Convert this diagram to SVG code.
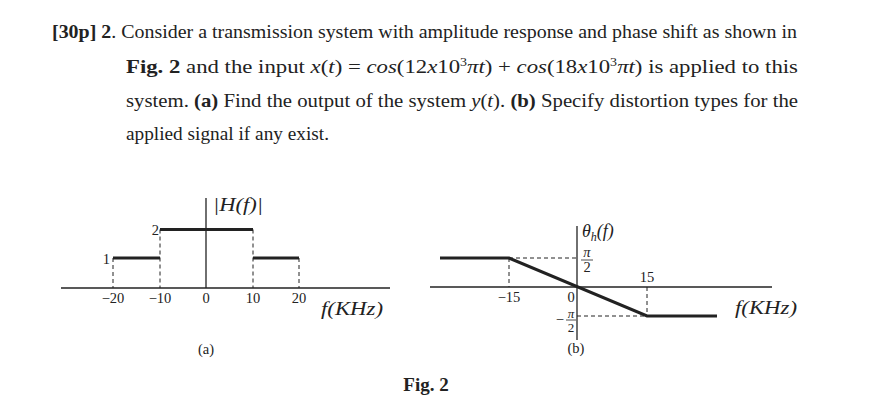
<svg xmlns="http://www.w3.org/2000/svg" width="884" height="408" viewBox="0 0 884 408">
<style>
text{font-family:"Liberation Serif",serif;fill:#222}
.p{font-size:19.5px}
.s{font-size:14.5px}
.i{font-style:italic}
.ax{stroke:#222;stroke-width:1.3;fill:none}
.th{stroke:#222;stroke-width:3.2;fill:none}
.d{stroke:#222;stroke-width:1;stroke-dasharray:4,3;fill:none}
</style>
<rect width="884" height="408" fill="#fff"/>
<g id="question">
<text class="p" x="52" y="38" textLength="745" lengthAdjust="spacingAndGlyphs"><tspan font-weight="bold">[30p] 2</tspan>. Consider a transmission system with amplitude response and phase shift as shown in</text>
<text class="p" x="126" y="73" textLength="672" lengthAdjust="spacingAndGlyphs"><tspan font-weight="bold">Fig. 2</tspan> and the input <tspan class="i">x</tspan>(<tspan class="i">t</tspan>) = <tspan class="i">cos</tspan>(12<tspan class="i">x</tspan>10<tspan font-size="12" dy="-7">3</tspan><tspan dy="7" class="i">πt</tspan>) + <tspan class="i">cos</tspan>(18<tspan class="i">x</tspan>10<tspan font-size="12" dy="-7">3</tspan><tspan dy="7" class="i">πt</tspan>) is applied to this</text>
<text class="p" x="126" y="107" textLength="672" lengthAdjust="spacingAndGlyphs">system. <tspan font-weight="bold">(a)</tspan> Find the output of the system  <tspan class="i">y</tspan>(<tspan class="i">t</tspan>). <tspan font-weight="bold">(b)</tspan> Specify distortion types for the</text>
<text class="p" x="126" y="140" textLength="203" lengthAdjust="spacingAndGlyphs">applied signal if any exist.</text>
</g>
<g id="plot-a">
<line class="ax" x1="61" y1="288" x2="390" y2="288"/>
<line class="ax" x1="206" y1="198" x2="206" y2="288"/>
<path class="th" d="M113 258H160M160 229.5H253M253 258H299"/>
<path class="d" d="M113 258V288M160 229.5V288M253 229.5V288M299 258V288"/>
<text class="s" x="110" y="264" text-anchor="end">1</text>
<text class="s" x="159" y="235" text-anchor="end">2</text>
<text x="113" y="303" class="s" text-anchor="middle">−20</text><text x="160" y="303" class="s" text-anchor="middle">−10</text><text x="206" y="303" class="s" text-anchor="middle">0</text><text x="253" y="303" class="s" text-anchor="middle">10</text><text x="299" y="303" class="s" text-anchor="middle">20</text>
<text x="213" y="211" font-size="18" class="i" textLength="50" lengthAdjust="spacingAndGlyphs">|H(f)|</text>
<text x="321" y="315" font-size="18" class="i" textLength="62" lengthAdjust="spacingAndGlyphs">f(KHz)</text>
<text x="206" y="354" class="s" text-anchor="middle">(a)</text>
</g>
<g id="plot-b">
<line class="ax" x1="430" y1="287" x2="772" y2="287"/>
<line class="ax" x1="577" y1="226" x2="577" y2="340"/>
<path class="th" d="M440 258H509L647 316H717"/>
<path class="d" d="M509 258H577M509 258V287M577 316H647M647 287V316"/>
<text x="582" y="237" font-size="18" class="i">θ<tspan font-size="12" dy="4">h</tspan><tspan dy="-4">(f)</tspan></text>
<text x="587" y="257" class="s i" text-anchor="middle">π</text>
<line x1="581" y1="260" x2="593" y2="260" stroke="#222" stroke-width="0.8"/>
<text x="587" y="272" class="s" text-anchor="middle">2</text>
<text x="571" y="318" font-size="13" class="i" text-anchor="middle">π</text>
<line x1="566" y1="320" x2="576" y2="320" stroke="#222" stroke-width="0.8"/>
<text x="571" y="332" font-size="13" text-anchor="middle">2</text>
<text x="564" y="324" class="s" text-anchor="end">−</text>
<text x="571" y="302" class="s" text-anchor="middle">0</text>
<text x="509" y="302" class="s" text-anchor="middle">−15</text>
<text x="647" y="282" class="s" text-anchor="middle">15</text>
<text x="735" y="314" font-size="18" class="i" textLength="62" lengthAdjust="spacingAndGlyphs">f(KHz)</text>
<text x="576" y="353" class="s" text-anchor="middle">(b)</text>
</g>
<text x="426" y="391" font-size="19" font-weight="bold" text-anchor="middle">Fig. 2</text>
</svg>
